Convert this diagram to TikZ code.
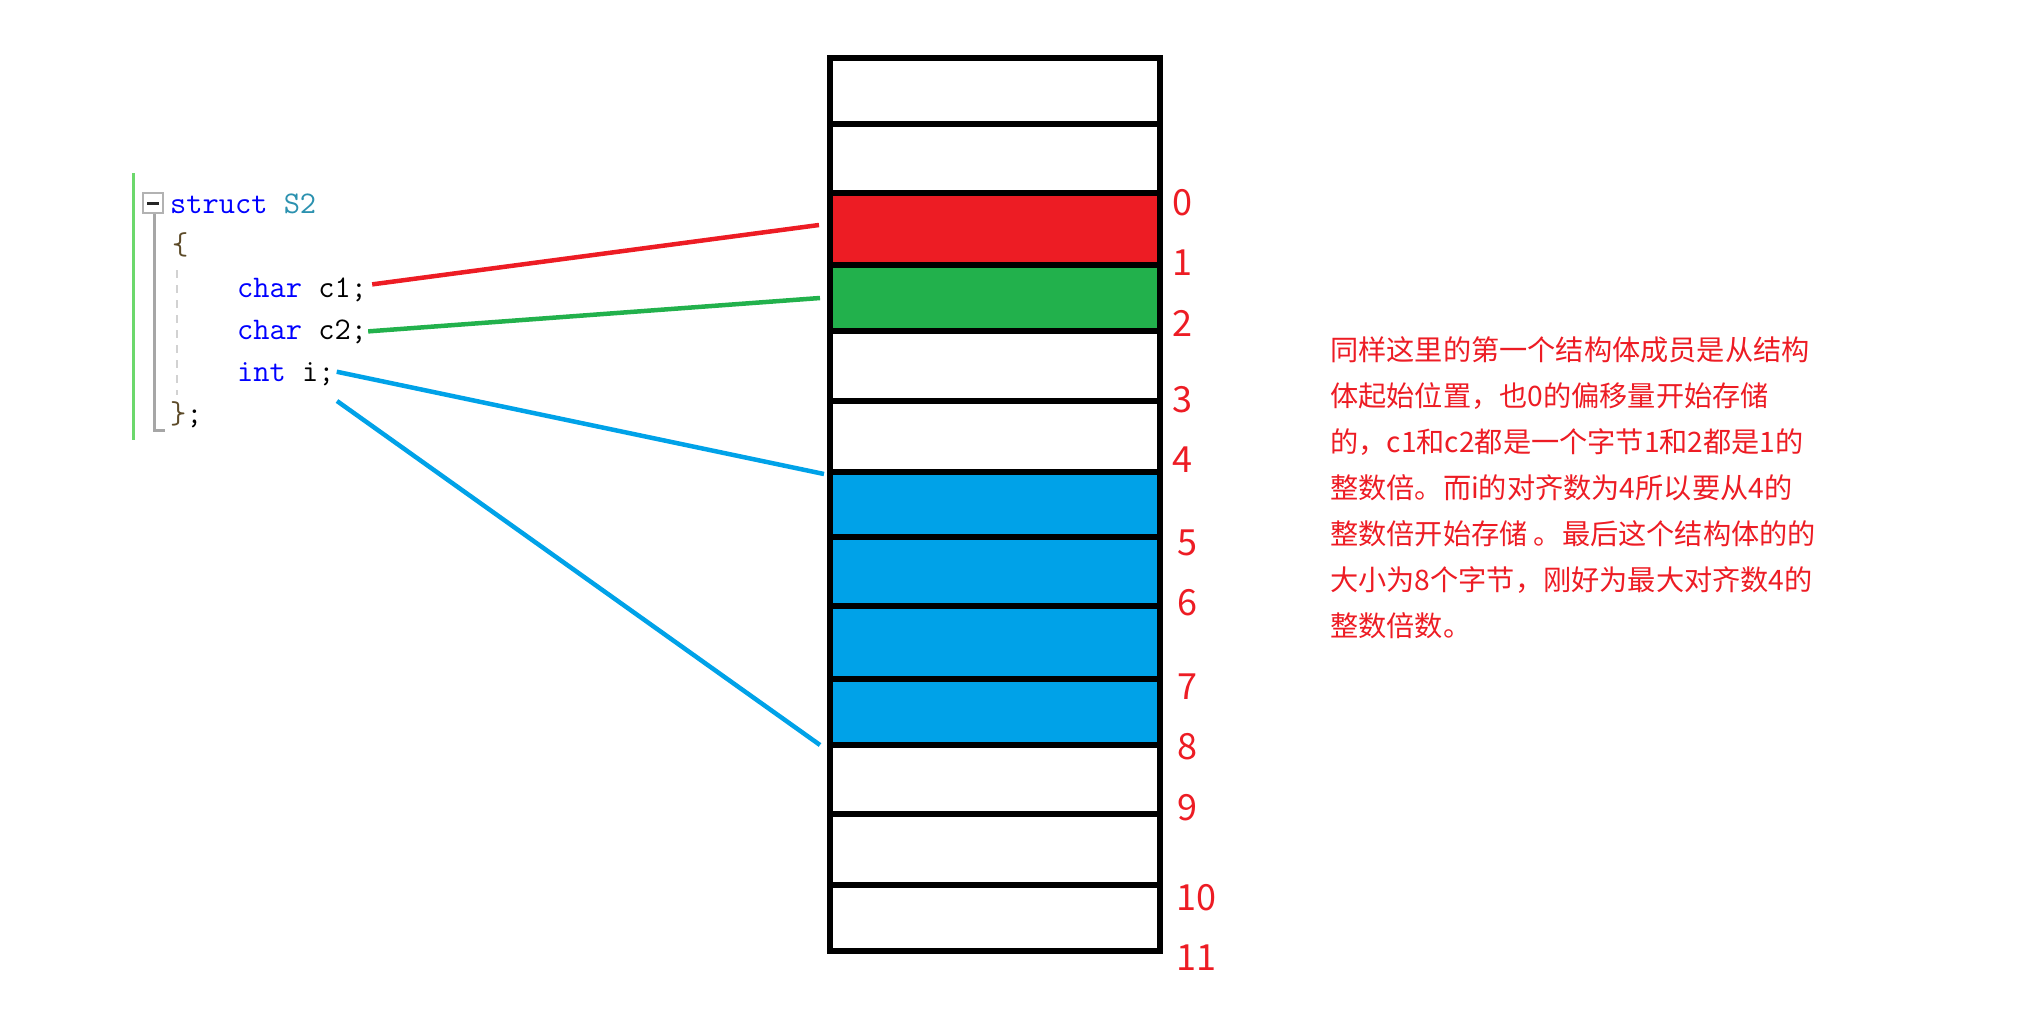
\documentclass[tikz,border=0pt]{standalone}
\usepackage{fontspec}
\usepackage{tikz}
\usetikzlibrary{calc,positioning}
\newfontfamily\cjk{Noto Sans CJK SC}
\definecolor{paintred}{HTML}{ED1C24}
\definecolor{paintgreen}{HTML}{22B14C}
\definecolor{paintblue}{HTML}{00A2E8}
\definecolor{kwblue}{HTML}{0000FF}
\definecolor{typeteal}{HTML}{2B91AF}
\definecolor{bracebrown}{HTML}{5C4A28}
\definecolor{guttergreen}{HTML}{6CD86C}
\tikzstyle{cell}    =[rectangle, draw=black, line width=6pt,
                      minimum width=330pt, inner sep=0pt, outer sep=0pt]
\tikzstyle{link}    =[line width=4.5pt]
\tikzstyle{idx}     =[anchor=west, inner sep=0pt, text=paintred,
                      font=\cjk\fontsize{36}{36}\selectfont]
\tikzstyle{codeline}=[anchor=base west, inner sep=0pt,
                      font=\ttfamily\fontsize{31.5}{31.5}\selectfont]
\tikzstyle{notetext}=[anchor=base west, inner sep=0pt, text=paintred,
                      font=\cjk\fontsize{28.2}{28.2}\selectfont]

\begin{document}
\begin{tikzpicture}[x=1pt, y=-1pt]
    \useasboundingbox (0,0) rectangle (2031,1023);
    % editor gutter
    \draw[guttergreen, line width=3pt] (133,173) -- (133,440);
    \draw[gray!70, line width=3pt] (154,213) -- (154,430) -- (165,430);
    \draw[gray!60, fill=white, line width=2.5pt] (143,193) rectangle (163,213);
    \draw[gray!30!black, line width=3pt] (147,203) -- (159,203);
    \draw[gray!35, line width=2.5pt, dash pattern=on 8pt off 7pt] (177,270) -- (177,395);
    % code
    \node[codeline] (head)  at (170,213) {\textcolor{kwblue}{struct} \textcolor{typeteal}{S2}};
    \node[codeline, text=bracebrown] (open) at (172,254) {\{};
    \node[codeline] (c1)    at (237,297) {\textcolor{kwblue}{char} c1;};
    \node[codeline] (c2)    at (237,339) {\textcolor{kwblue}{char} c2;};
    \node[codeline] (i)     at (237,381) {\textcolor{kwblue}{int} i;};
    \node[codeline] (close) at (170,423) {\textcolor{bracebrown}{\}};};
    \coordinate (ilow) at (337,401);
    % memory
    \foreach \ya/\yb/\col [count=\k] in {58/124/white, 124/193/white,
        193/265/paintred, 265/331/paintgreen, 331/401/white, 401/472/white,
        472/537/paintblue, 537/606/paintblue, 606/679/paintblue,
        679/745/paintblue, 745/814/white, 814/885/white, 885/951/white}
        \node[cell, fill=\col, minimum height={(\yb-\ya)*1pt}] (m\k)
            at (995,{(\ya+\yb)/2}) {};
    % offsets
    \foreach \n/\xx/\yy in {0/1172/203, 1/1172/263, 2/1172/323, 3/1172/400,
        4/1172/460, 5/1177/543, 6/1177/603, 7/1177/687, 8/1177/747,
        9/1177/808, 10/1176/898, 11/1176/958}
        \node[idx] (n\n) at (\xx,\yy) {\n};
    % members
    \draw[link, paintred]   ([xshift=5pt, yshift=5pt]c1.east) -- ([xshift=-11pt, yshift=4pt]m3.west);
    \draw[link, paintgreen] ([xshift=1pt]c2.east) -- ([xshift=-10pt]m4.west);
    \draw[link, paintblue]  ([xshift=2pt, yshift=2pt]i.east) -- ([xshift=-6pt, yshift=-2pt]m7.north west);
    \draw[link, paintblue]  (ilow) -- ([xshift=-10pt]m10.south west);
    % explanation
    \foreach \txt [count=\k] in {{同样这里的第一个结构体成员是从结构},
        {体起始位置，也0的偏移量开始存储},
        {的，c1和c2都是一个字节1和2都是1的},
        {整数倍。而i的对齐数为4所以要从4的},
        {整数倍开始存储 。最后这个结构体的的},
        {大小为8个字节，刚好为最大对齐数4的},
        {整数倍数。}}
        \node[notetext] (t\k) at (1330,{360+46*(\k-1)}) {\txt};
\end{tikzpicture}
\end{document}
